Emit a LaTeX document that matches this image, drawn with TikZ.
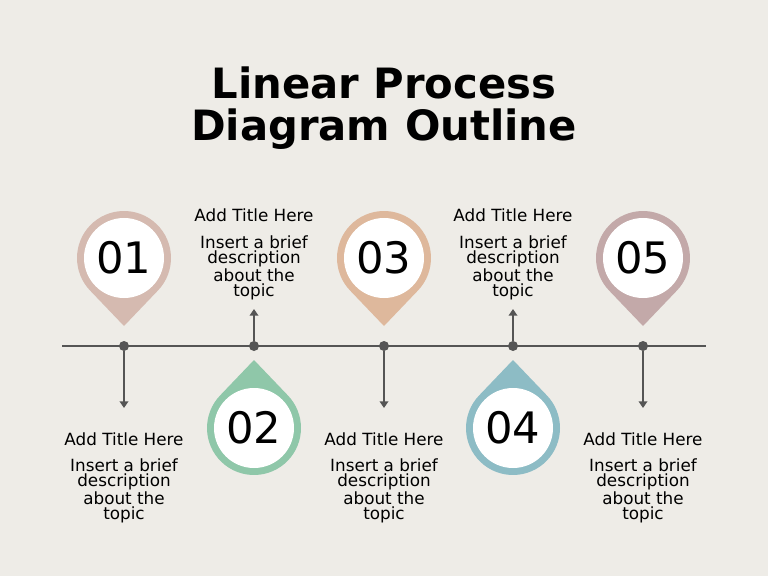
\documentclass[tikz,border=0pt]{standalone}
\usepackage{fontspec}
\setmainfont{DejaVu Sans}
\usetikzlibrary{arrows.meta,calc}

\definecolor{paper}{HTML}{EEECE7}
\definecolor{ink}{HTML}{555555}
\definecolor{pinA}{HTML}{D5BAB0}
\definecolor{pinB}{HTML}{8FC7A9}
\definecolor{pinC}{HTML}{DEB89C}
\definecolor{pinD}{HTML}{8DBCC5}
\definecolor{pinE}{HTML}{C3A9A9}

\tikzset{
  heading/.style={align=center,font=\fontsize{31.3}{31.5}\selectfont\bfseries},
  axis/.style={draw=ink,line width=1.1pt},
  stop/.style={circle,fill=ink,inner sep=0pt,minimum size=7.5pt},
  link/.style={draw=ink,line width=1.1pt,-{Triangle[width=6.5pt,length=5pt]}},
  numdisc/.style={circle,fill=white,inner sep=0pt,minimum size=60pt,
    font=\fontsize{32.5}{32.5}\selectfont},
  ttl/.style={font=\fontsize{12.6}{12.6}\selectfont},
  desc/.style={align=center,font=\fontsize{12.6}{11.5}\selectfont}
}

% pin: name, centre, tip direction, colour, number
\newcommand\pinmark[5]{%
  \fill[#4] (#2) ++(#3+46.3:47) arc[start angle=#3+46.3,end angle=#3+313.7,radius=47]
    -- ($(#2)+(#3:68)$) -- cycle;
  \node[numdisc] (#1) at (#2) {#5};
}

\begin{document}
\begin{tikzpicture}[x=0.75pt,y=0.75pt]
\fill[paper] (0,0) rectangle (768,576);
\useasboundingbox (0,0) rectangle (768,576);

\node[heading] (title) at (384,468) {Linear Process\\Diagram Outline};

% timeline
\coordinate (lineL) at (62,230);
\coordinate (lineR) at (706,230);
\draw[axis] (lineL) -- (lineR);

\node[stop] (d1) at (124,230) {};
\node[stop] (d2) at (254,230) {};
\node[stop] (d3) at (384,230) {};
\node[stop] (d4) at (513,230) {};
\node[stop] (d5) at (643,230) {};

% arrow ends
\coordinate (e1) at (124,168);
\coordinate (e2) at (254,267);
\coordinate (e3) at (384,168);
\coordinate (e4) at (513,267);
\coordinate (e5) at (643,168);

\draw[link] (d1) -- (e1);
\draw[link] (d2) -- (e2);
\draw[link] (d3) -- (e3);
\draw[link] (d4) -- (e4);
\draw[link] (d5) -- (e5);

% pins
\pinmark{p1}{124,318}{-90}{pinA}{01}
\pinmark{p2}{254,148}{90}{pinB}{02}
\pinmark{p3}{384,318}{-90}{pinC}{03}
\pinmark{p4}{513,148}{90}{pinD}{04}
\pinmark{p5}{643,318}{-90}{pinE}{05}

% texts
\node[ttl] (t1) at (124,137) {Add Title Here};
\node[desc] (s1) at (124,85) {Insert a brief\\description\\about the\\topic};
\node[ttl] (t2) at (254,361) {Add Title Here};
\node[desc] (s2) at (254,308) {Insert a brief\\description\\about the\\topic};
\node[ttl] (t3) at (384,137) {Add Title Here};
\node[desc] (s3) at (384,85) {Insert a brief\\description\\about the\\topic};
\node[ttl] (t4) at (513,361) {Add Title Here};
\node[desc] (s4) at (513,308) {Insert a brief\\description\\about the\\topic};
\node[ttl] (t5) at (643,137) {Add Title Here};
\node[desc] (s5) at (643,85) {Insert a brief\\description\\about the\\topic};
\end{tikzpicture}
\end{document}
